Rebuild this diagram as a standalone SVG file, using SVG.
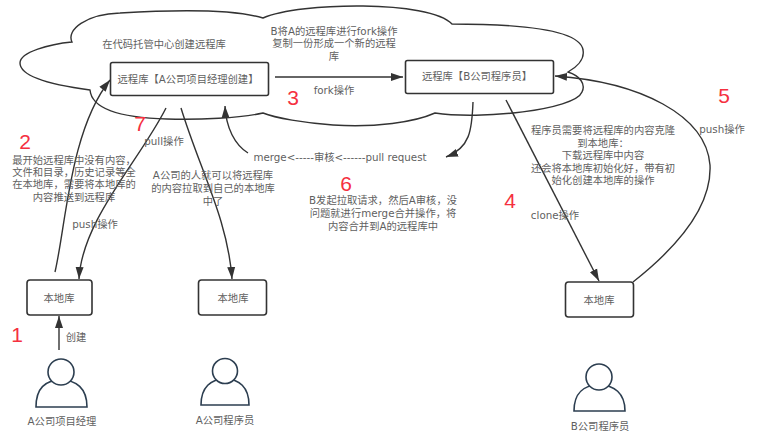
<svg xmlns="http://www.w3.org/2000/svg" width="758" height="435" viewBox="0 0 758 435">
<style>
text{font-family:"DejaVu Sans","Noto Sans CJK SC",sans-serif;font-size:10.300px;fill:#5f5f5f;text-anchor:middle}
.n{font-family:"Liberation Sans",sans-serif;font-size:21px;fill:#f5303f}
.box{fill:#fff;stroke:#333;stroke-width:1.6}
.c{fill:none;stroke:#333;stroke-width:1.4}
.p{fill:#fff;stroke:#2c3e50;stroke-width:1.6}
</style>
<defs>
<marker id="a" markerUnits="userSpaceOnUse" markerWidth="13" markerHeight="12" viewBox="0 0 13 12" refX="12" refY="6" orient="auto"><path d="M0,2 L12,6 L0,10 Z" fill="#333"/></marker>
</defs>
<rect width="758" height="435" fill="#fff"/>
<g id="cloud">
<path class="c" d="M72,42 C66,30 86,14 120,13 C170,10 230,8 263,18 C300,2 430,0 452,24 C510,24 580,28 583,50 C585,60 575,68 568,72 C580,76 586,84 582,92 C575,110 480,120 435,113 C415,122 375,128 333,125 C305,123 275,118 263,113 C240,118 200,120 167,119 C130,118 92,112 90,90 C60,86 20,78 20,63 C20,52 50,44 72,42 Z"/>
</g>
<g id="connectors">
<path class="c" marker-end="url(#a)" d="M55,272 C66,225 70,130 110,80"/>
<path class="c" marker-end="url(#a)" d="M166,108 C140,160 82,220 79,279"/>
<path class="c" marker-end="url(#a)" d="M181,108 C200,170 228,220 232,279"/>
<path class="c" marker-end="url(#a)" d="M59,350 L59,316"/>
<path class="c" marker-end="url(#a)" d="M275,77 L403,77"/>
<path class="c" marker-end="url(#a)" d="M473,102 C472,130 470,148 446,157"/>
<path class="c" marker-end="url(#a)" d="M248,153 C235,145 226,128 225,106"/>
<path class="c" marker-end="url(#a)" d="M506,100 L599,281"/>
<path class="c" marker-end="url(#a)" d="M633,282 C680,245 712,205 710,165 C706,115 640,82 555,76"/>
</g>
<g id="remote-a"><rect class="box" x="110.500" y="62.500" width="158" height="33" rx="2"/><text x="188" y="83">远程库【A公司项目经理创建】</text></g>
<g id="remote-b"><rect class="box" x="405.500" y="60.500" width="148" height="33" rx="2"/><text x="477" y="80">远程库【B公司程序员】</text></g>
<g id="local-a1"><rect class="box" x="27" y="280" width="65" height="35" rx="3"/><text x="59" y="302">本地库</text></g>
<g id="local-a2"><rect class="box" x="198.500" y="280" width="68" height="35" rx="3"/><text x="233" y="302">本地库</text></g>
<g id="local-b"><rect class="box" x="565.500" y="282" width="68" height="35" rx="3"/><text x="599" y="304">本地库</text></g>
<g id="person-a-manager"><path class="p" d="M36,407 C36,388 46,380 61,380 C76,380 87,388 87,407 Z"/><circle class="p" cx="61" cy="372" r="13"/><text x="62" y="425">A公司项目经理</text></g>
<g id="person-a-dev"><path class="p" d="M201,405 C201,387 211,379 225,379 C239,379 249,387 249,405 Z"/><circle class="p" cx="225" cy="371" r="12.500"/><text x="225" y="424">A公司程序员</text></g>
<g id="person-b-dev"><path class="p" d="M574,411 C574,393 584,385 599,385 C614,385 625,393 625,411 Z"/><circle class="p" cx="599" cy="377" r="13"/><text x="600" y="430">B公司程序员</text></g>
<g id="labels">
<text x="164" y="48">在代码托管中心创建远程库</text>
<text x="334" y="35">B将A的远程库进行fork操作</text>
<text x="334" y="47">复制一份形成一个新的远程</text>
<text x="334" y="60">库</text>
<text x="334" y="94">fork操作</text>
<text x="164" y="145">pull操作</text>
<text x="340" y="161">merge&lt;-----审核&lt;------pull request</text>
<text x="74" y="164">最开始远程库中没有内容，</text>
<text x="74" y="176">文件和目录，历史记录等全</text>
<text x="74" y="188">在本地库，需要将本地库的</text>
<text x="74" y="201">内容推送到远程库</text>
<text x="213" y="179">A公司的人就可以将远程库</text>
<text x="213" y="192">的内容拉取到自己的本地库</text>
<text x="213" y="205">中了</text>
<text x="383" y="204">B发起拉取请求，然后A审核，没</text>
<text x="383" y="217">问题就进行merge合并操作，将</text>
<text x="383" y="230">内容合并到A的远程库中</text>
<text x="603" y="134">程序员需要将远程库的内容克隆</text>
<text x="603" y="147">到本地库：</text>
<text x="603" y="159">下载远程库中内容</text>
<text x="603" y="172">还会将本地库初始化好，带有初</text>
<text x="603" y="184">始化创建本地库的操作</text>
<text x="555" y="219">clone操作</text>
<text x="722" y="133">push操作</text>
<text x="95" y="228">push操作</text>
<text x="76" y="341">创建</text>
<text class="n" x="17" y="342">1</text>
<text class="n" x="25" y="149">2</text>
<text class="n" x="293" y="105">3</text>
<text class="n" x="510" y="208">4</text>
<text class="n" x="724" y="103">5</text>
<text class="n" x="346" y="191">6</text>
<text class="n" x="140" y="131">7</text>
</g>
</svg>
